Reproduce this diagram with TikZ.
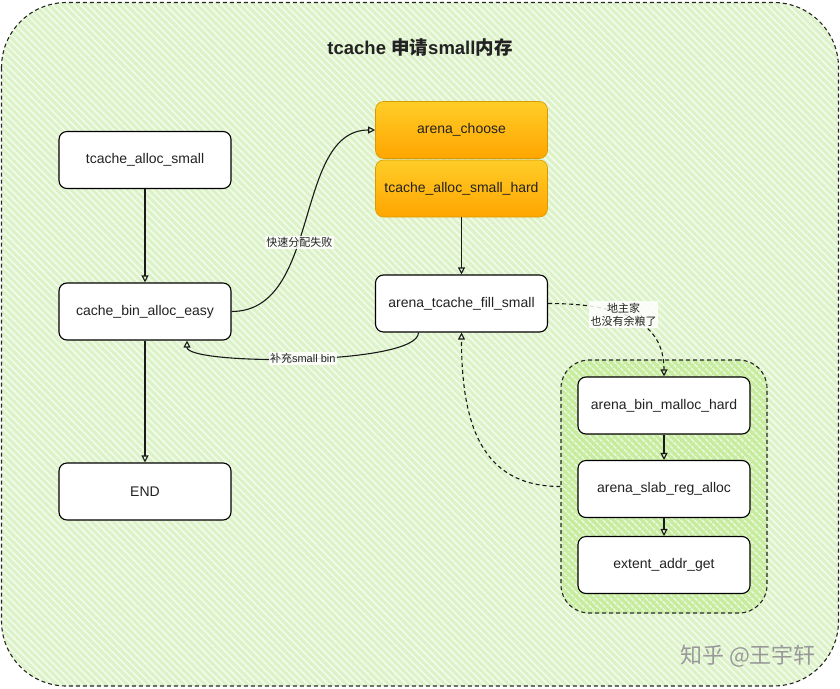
\documentclass[tikz,border=0pt]{standalone}
\usepackage{fontspec}
\setmainfont{Liberation Sans}
\newfontfamily\cjk{Noto Sans CJK SC}
\usetikzlibrary{arrows.meta,patterns.meta,calc}
\definecolor{bgouter}{RGB}{220,243,200}
\definecolor{bginner}{RGB}{198,236,158}
\definecolor{orangetop}{RGB}{255,205,40}
\definecolor{orangebot}{RGB}{255,165,0}
\definecolor{orangeline}{RGB}{215,155,0}
\definecolor{txt}{RGB}{34,34,34}
\tikzset{
  box/.style={draw=black, line width=1.1pt, rounded corners=8pt, fill=white,
    minimum width=172pt, minimum height=57pt, inner sep=0pt, text=txt,
    font=\fontsize{14}{16}\selectfont},
  orangebox/.style={box, draw=orangeline, line width=0.6pt, top color=orangetop, bottom color=orangebot},
  groupbox/.style={preaction={fill=bginner}, pattern={Lines[angle=-45,distance=5pt,line width=1.5pt]},
    pattern color=white!65!bginner, draw=black!85, line width=1.1pt, dash pattern=on 4pt off 3pt,
    rounded corners=28pt, minimum width=206pt, minimum height=253pt, inner sep=0pt},
  arrowline/.style={draw=black!90, line width=1.1pt, -{Triangle[open,length=7pt,width=7pt]}},
  dashline/.style={arrowline, dash pattern=on 4pt off 3pt},
  elabel/.style={fill=white, fill opacity=0.85, text opacity=1, inner sep=1.5pt, text=txt,
    font=\cjk\fontsize{11}{13}\selectfont, align=center}
}
\begin{document}
\begin{tikzpicture}[x=1pt,y=-1pt]
\useasboundingbox (0,0) rectangle (840,688);
% outer container
\path[preaction={fill=bgouter}, pattern={Lines[angle=-45,distance=5pt,line width=1.6pt]},
  pattern color=white!70!bgouter, rounded corners=65pt] (1.5,2.5) rectangle (838.5,686);
\draw[black!85, line width=1.1pt, dash pattern=on 4pt off 3pt, rounded corners=65pt] (1.5,2.5) rectangle (838.5,686);
% title
\node[text=txt, font=\bfseries\fontsize{18.5}{22}\selectfont] (title) at (420,47)
  {tcache {\cjk\bfseries 申请}small{\cjk\bfseries 内存}};
% inner group
\node[groupbox] (grp) at (664,486.5) {};
% boxes
\node[box] (tas) at (145,160) {tcache\_alloc\_small};
\node[box] (easy) at (145,311.5) {cache\_bin\_alloc\_easy};
\node[box] (endn) at (145,491.5) {END};
\node[orangebox] (choose) at (461.5,130) {arena\_choose};
\node[orangebox] (hard) at (461.5,188.5) {tcache\_alloc\_small\_hard};
\node[box] (fill) at (461.5,303.5) {arena\_tcache\_fill\_small};
\node[box] (bmh) at (664,405.5) {arena\_bin\_malloc\_hard};
\node[box] (slab) at (664,489) {arena\_slab\_reg\_alloc};
\node[box] (ext) at (664,565) {extent\_addr\_get};
% connectors
\draw[arrowline] (tas.south) -- (easy.north);
\draw[arrowline] (easy.south) -- (endn.north);
\draw[arrowline] (easy.east) .. controls +(90,0) and +(-82,0) .. (choose.west)
  node[elabel, pos=0.42] (l1) {快速分配失败};
\draw[arrowline] (hard.south) -- (fill.north);
\draw[arrowline] ($(fill.south)+(-43,0)$) .. controls +(0,33) and +(0,25) .. ($(easy.south)+(42,0)$)
  node[elabel, pos=0.5, font=\fontsize{11}{13}\selectfont] (l2) {{\cjk 补充}small bin};
\draw[dashline] (fill.east) .. controls +(90,0) and +(0,-45) .. (bmh.north)
  node[elabel, pos=0.37] (l3) {地主家\\也没有余粮了};
\draw[dashline] (grp.west) .. controls +(-80,0) and +(0,90) .. (fill.south);
\draw[arrowline] (bmh.south) -- (slab.north);
\draw[arrowline] (slab.south) -- (ext.north);
% watermark
\node[text=black!40, font=\cjk\fontsize{22}{24}\selectfont] (wm) at (748,656) {知乎 @王宇轩};
\end{tikzpicture}
\end{document}
